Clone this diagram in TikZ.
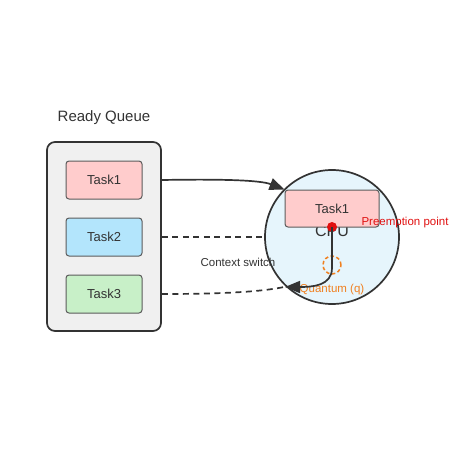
\documentclass[tikz,border=0pt]{standalone}
\usepackage{fontspec}
\setmainfont{Liberation Sans}
\usetikzlibrary{arrows.meta}
\definecolor{bord}{HTML}{333333}
\definecolor{qfill}{HTML}{F0F0F0}
\definecolor{t1}{HTML}{FFCCCC}
\definecolor{t2}{HTML}{B3E5FC}
\definecolor{t3}{HTML}{C8F0C8}
\definecolor{cpufill}{HTML}{E6F5FC}
\definecolor{orng}{HTML}{F08020}
\definecolor{redc}{HTML}{E01010}
\tikzset{
  taskbox/.style={draw=bord!80, line width=1pt, rounded corners=3pt, minimum width=76pt, minimum height=38pt, inner sep=0pt, font=\fontsize{13}{15}\selectfont, text=bord},
  conn/.style={draw=bord, line width=1.7pt},
  dconn/.style={draw=bord, line width=1.7pt, dash pattern=on 6pt off 4.5pt},
  bigtip/.style={-{Triangle[length=15pt,width=12pt]}}
}
\begin{document}
\begin{tikzpicture}[x=1pt,y=-1pt]
\useasboundingbox (0,0) rectangle (474,474);
\node[draw=bord, line width=1.7pt, fill=qfill, rounded corners=8pt, minimum width=114pt, minimum height=189pt, inner sep=0pt] (queue) at (104,236.5) {};
\node[font=\fontsize{15}{17}\selectfont, text=bord] (title) at (104,118) {Ready Queue};
\node[taskbox, fill=t1] (q1) at (104,180) {Task1};
\node[taskbox, fill=t2] (q2) at (104,237) {Task2};
\node[taskbox, fill=t3] (q3) at (104,294) {Task3};
\node[circle, draw=bord, line width=1.7pt, fill=cpufill, minimum size=134pt, inner sep=0pt] (cpu) at (332,237) {};
\node[font=\fontsize{16}{18}\selectfont, text=bord] (cpulbl) at (332,231) {CPU};
\node[taskbox, fill=t1, minimum width=94pt, minimum height=37pt] (run) at (332,208.5) {Task1};
\node[circle, draw=orng, line width=1.5pt, dash pattern=on 3.5pt off 2.5pt, minimum size=18pt, inner sep=0pt] (quant) at (332,265) {};
\node[circle, fill=redc, minimum size=10pt, inner sep=0pt] (pre) at (332,227) {};
\node[font=\fontsize{11.5}{13}\selectfont, text=redc] (prelbl) at (405,223) {Preemption point};
\node[font=\fontsize{11.5}{13}\selectfont, text=orng] (qlbl) at (332,290) {Quantum (q)};
\node[font=\fontsize{11.5}{13}\selectfont, text=bord] (cslbl) at (238,262) {Context switch};
\coordinate (s1) at (queue.east |- q1);
\coordinate (s2) at (queue.east |- q2);
\coordinate (s3) at (queue.east |- q3);
\coordinate (c2end) at (265,237);
\coordinate (c3end) at (284,287);
\draw[conn, bigtip] (s1) .. controls (220,179) and (260,180) .. (run.north west);
\draw[dconn] (s2) -- (c2end);
\draw[dconn] (s3) .. controls (220,294) and (260,292) .. (c3end);
\draw[conn, bigtip] (pre.center) -- (332,268) .. controls (332,286) and (312,287) .. (285,287);
\end{tikzpicture}
\end{document}
